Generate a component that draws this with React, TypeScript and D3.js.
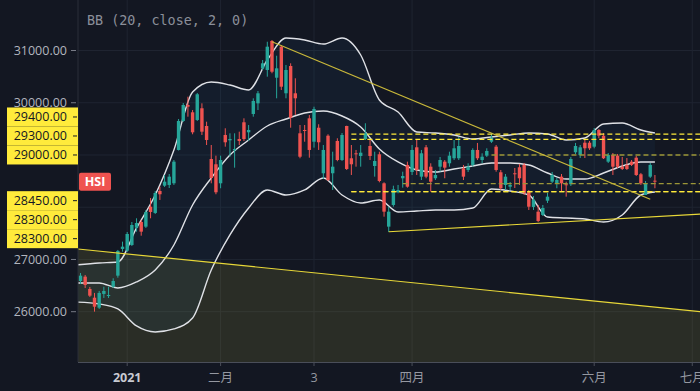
import React from "react";
import * as d3 from "d3";

// HSI daily candles, Dec 2020 - Jun 2021
const opens = [
  26588, 26671, 26435, 26268, 26077, 26340, 26301, 26479, 26690, 27201,
  27168, 27277, 27608, 27717, 27628, 28010, 27890, 28311, 28412, 28426,
  28458, 29096, 29651, 29957, 29817, 29670, 29894, 29555, 28923, 28822,
  28458, 29383, 29281, 29090, 29306, 29626, 29434, 29785, 29989, 30659,
  30627, 31182, 30479, 31073, 30181, 30703, 30181, 29415, 29478, 29702,
  29254, 29522, 28650, 29369, 28650, 29268, 28904, 29555, 28937, 29032,
  28981, 29306, 29172, 28789, 29013, 28458, 27628, 28043, 28286, 28554,
  28809, 28675, 29147, 28585, 29147, 28776, 28554, 28776, 28872, 28841,
  28937, 28937, 28745, 28713, 28809, 29096, 28904, 28987, 29254, 29159,
  28669, 28426, 28393, 28650, 28765, 28809, 28297, 28005, 27915, 27852,
  28125, 28489, 28458, 28585, 28439, 28439, 29052, 28999, 29235, 29235,
  29159, 29478, 29369, 28872, 28999, 28987, 28776, 28809, 28872, 28948,
  28631, 28234, 28585, 28508,
];
const highs = [
  26741, 26703, 26474, 26359, 26397, 26479, 26479, 26640, 27182, 27341,
  27526, 27717, 27788, 27756, 27947, 28177, 28311, 28393, 28617, 28636,
  28904, 29689, 29995, 30116, 29861, 30187, 29989, 29637, 29191, 28987,
  28987, 29511, 29415, 29415, 29446, 29702, 29574, 30085, 30225, 30818,
  31168, 31201, 30900, 31105, 30723, 30755, 30468, 29574, 29574, 29765,
  29924, 29588, 29191, 29396, 29063, 29320, 29421, 29560, 29191, 29096,
  29191, 29607, 29287, 29063, 29063, 28477, 28010, 28412, 28426, 28680,
  28872, 29191, 29287, 29096, 29191, 28841, 28713, 28962, 28904, 29063,
  29287, 29345, 28809, 28841, 29128, 29230, 29032, 29128, 29421, 29191,
  28713, 28636, 28483, 28751, 28828, 28847, 28330, 28215, 28043, 28043,
  28273, 28675, 28560, 28636, 28489, 28962, 29230, 29191, 29287, 29268,
  29517, 29497, 29421, 29038, 29038, 29019, 28962, 28942, 28904, 28981,
  28656, 28502, 28847, 28617,
];
const lows = [
  26531, 26454, 26282, 26001, 26052, 26263, 26263, 26454, 26651, 27149,
  27143, 27258, 27532, 27455, 27603, 27788, 27871, 28139, 28388, 28368,
  28426, 29086, 29632, 29733, 29396, 29651, 29383, 29191, 28458, 28248,
  28363, 29159, 28967, 28757, 29191, 29268, 29268, 29733, 29861, 30627,
  30499, 30564, 30085, 30244, 30085, 29522, 29765, 28937, 29254, 28948,
  29140, 29096, 28540, 28502, 28330, 28880, 28885, 28713, 28617, 28776,
  28776, 29287, 28904, 28585, 28477, 27819, 27526, 28010, 28267, 28374,
  28374, 28617, 28617, 28521, 28554, 28297, 28521, 28680, 28554, 28776,
  28904, 28904, 28521, 28675, 28776, 28904, 28841, 28962, 29230, 28680,
  28330, 28330, 28330, 28368, 28426, 28235, 27947, 27947, 27717, 27832,
  28081, 28464, 28363, 28297, 28202, 28406, 29019, 28942, 28942, 29096,
  29128, 29320, 28923, 28847, 28617, 28751, 28713, 28713, 28789, 28598,
  28426, 28234, 28560, 28363,
];
const closes = [
  26690, 26512, 26307, 26096, 26359, 26397, 26320, 26588, 27163, 27245,
  27488, 27660, 27698, 27532, 27909, 27909, 28273, 28248, 28489, 28585,
  28872, 29651, 29957, 29924, 29434, 30162, 29446, 29287, 28560, 28286,
  28904, 29243, 29306, 29115, 29268, 29306, 29478, 30034, 30181, 30755,
  31073, 30594, 30659, 30307, 30627, 29714, 30085, 28967, 29459, 29096,
  29880, 29243, 29096, 28521, 28776, 28904, 29383, 28732, 28822, 29013,
  29044, 29415, 28981, 28885, 28502, 27915, 27915, 28343, 28330, 28598,
  28393, 29096, 28713, 29032, 28585, 28489, 28617, 28904, 28757, 28987,
  29128, 29172, 28585, 28776, 29096, 28937, 28967, 29077, 29331, 28713,
  28363, 28585, 28426, 28631, 28554, 28267, 28010, 28139, 27737, 27985,
  28202, 28617, 28521, 28458, 28426, 28923, 29172, 29147, 29128, 29128,
  29478, 29369, 28937, 28999, 28776, 28776, 28732, 28732, 28809, 28617,
  28458, 28458, 28809, 28489,
];

// Bollinger bands (20, close, 2) sampled at bar indices
const bandIndex = [
  -1, 4, 8, 12, 16, 20, 24, 28, 32, 36, 40, 44, 48, 52, 56, 60,
  64, 68, 72, 76, 80, 84, 88, 92, 96, 100, 104, 108, 112, 116, 120, 123,
];
const bandUpper = [
  26895, 26933, 26952, 27603, 28234, 29096, 30206, 30397, 30340, 30244, 30818,
  31239, 31201, 31124, 31239, 30914, 30053, 29823, 29440, 29421, 29383, 29306,
  29345, 29383, 29421, 29402, 29287, 29325, 29593, 29612, 29478, 29421,
];
const bandMiddle = [
  26550, 26550, 26454, 26569, 26799, 27277, 28043, 28560, 29000, 29287, 29555,
  29689, 29804, 29842, 29746, 29536, 29115, 28866, 28713, 28675, 28732, 28789,
  28847, 28847, 28809, 28655, 28540, 28540, 28655, 28789, 28866, 28866,
];
const bandLower = [
  26186, 26148, 26052, 25727, 25612, 25670, 25880, 26799, 27469, 27985, 28330,
  28234, 28330, 28560, 28234, 28081, 28139, 27909, 27928, 27947, 27947, 27985,
  28349, 28311, 28234, 27813, 27794, 27775, 27717, 27852, 28234, 28292,
];

// drawings
const trendX1 = [-1, 41, 66];
const trendP1 = [27204, 31168, 27530];
const trendX2 = [134, 122, 134];
const trendP2 = [25989, 28152, 27876];

const levelPrices = [29400, 29300, 29000, 28450, 28300, 28300];
const levelFrom = [58, 58, 88, 69, 58, 58];

const yTicks = [26000, 27000, 28000, 29000, 30000, 31000];
const xTickIndex = [10, 30, 50, 71, 110, 131];
const xTickLabels = ["2021", "二月", "3", "四月", "六月", "七月"];

const W = 700;
const H = 391;
const plotLeft = 78;
const plotBottom = 362;
const BG = "#131722";
const UP = "#26a69a";
const DOWN = "#ef5350";
const YELLOW = "#ffeb3b";
const levelColors = [YELLOW, YELLOW, "#9c9637", "#9c9637", YELLOW, YELLOW];
const axisFont = "'Open Sans', 'Liberation Sans', sans-serif";

const App = () => {
  const x = d3.scaleLinear().domain([0, 1]).range([80.5, 85.17]);
  const y = d3.scaleLinear().domain([31000, 26000]).range([50.5, 311.7]);
  const fmt = d3.format(".2f");

  const bandPts = bandIndex.map((b, i) => ({
    i: b,
    u: bandUpper[i],
    m: bandMiddle[i],
    l: bandLower[i],
  }));
  type BP = (typeof bandPts)[number];
  const curve = d3.curveMonotoneX;
  const upperLine = d3.line<BP>().x((d) => x(d.i)).y((d) => y(d.u)).curve(curve);
  const middleLine = d3.line<BP>().x((d) => x(d.i)).y((d) => y(d.m)).curve(curve);
  const lowerLine = d3.line<BP>().x((d) => x(d.i)).y((d) => y(d.l)).curve(curve);
  const bandArea = d3
    .area<BP>()
    .x((d) => x(d.i))
    .y0((d) => y(d.l))
    .y1((d) => y(d.u))
    .curve(curve);

  // olive fill under the long support line
  const t0 = { x1: x(trendX1[0]), y1: y(trendP1[0]), x2: x(trendX2[0]), y2: y(trendP2[0]) };
  const underFill = `M${t0.x1},${t0.y1}L${t0.x2},${t0.y2}L${t0.x2},${plotBottom}L${t0.x1},${plotBottom}Z`;

  // price tags on the left axis, pushed apart around the symbol tag
  const lastClose = closes[closes.length - 1];
  const hsiY = y(lastClose);
  const tagH = 19;
  const tags = levelPrices.map((p, i) => ({ p, i, y0: y(p), y: y(p) }));
  const above = tags.filter((t) => t.p > lastClose).sort((a, b) => b.y0 - a.y0);
  const below = tags.filter((t) => t.p <= lastClose).sort((a, b) => a.y0 - b.y0);
  let prev = hsiY;
  above.forEach((t) => {
    t.y = Math.min(t.y0, prev - tagH);
    prev = t.y;
  });
  prev = hsiY;
  below.forEach((t) => {
    t.y = Math.max(t.y0, prev + tagH);
    prev = t.y;
  });
  // axis labels hidden behind a tag are not drawn
  const visibleTicks = yTicks.filter((t) => tags.every((g) => Math.abs(g.y - y(t)) > tagH / 2 + 4));

  const bodyW = 3.4;

  return (
    <svg
      width={W}
      height={H}
      style={{ position: "absolute", left: 0, top: 0, display: "block" }}
    >
      <defs>
        <clipPath id="plot">
          <rect x={plotLeft} y={0} width={W - plotLeft} height={plotBottom} />
        </clipPath>
      </defs>
      <rect width={W} height={H} fill={BG} />

      <g clipPath="url(#plot)">
        {/* grid */}
        {yTicks.map((t) => (
          <line key={`gy${t}`} x1={plotLeft} x2={W} y1={y(t)} y2={y(t)} stroke="#1f2431" />
        ))}
        {xTickIndex.map((t) => (
          <line key={`gx${t}`} x1={x(t)} x2={x(t)} y1={0} y2={plotBottom} stroke="#1f2431" />
        ))}

        <path d={underFill} fill="#f0e24a" opacity={0.11} />
        <path d={bandArea(bandPts) ?? ""} fill="#2196f3" opacity={0.05} />
        <path d={upperLine(bandPts) ?? ""} fill="none" stroke="#dfe1e6" strokeWidth={1.4} />
        <path d={middleLine(bandPts) ?? ""} fill="none" stroke="#dfe1e6" strokeWidth={1.4} />
        <path d={lowerLine(bandPts) ?? ""} fill="none" stroke="#dfe1e6" strokeWidth={1.4} />

        {/* candles */}
        {closes.map((c, i) => {
          const o = opens[i];
          const col = c >= o ? UP : DOWN;
          const cx = x(i);
          const top = y(Math.max(o, c));
          const h = Math.max(1, y(Math.min(o, c)) - top);
          return (
            <g key={`c${i}`}>
              <line x1={cx} x2={cx} y1={y(highs[i])} y2={y(lows[i])} stroke={col} strokeWidth={1} />
              <rect x={cx - bodyW / 2} y={top} width={bodyW} height={h} fill={col} />
            </g>
          );
        })}

        {/* horizontal levels */}
        {levelPrices.map((p, i) => (
          <line
            key={`lv${i}`}
            x1={x(levelFrom[i])}
            x2={W}
            y1={y(p)}
            y2={y(p)}
            stroke={levelColors[i]}
            strokeWidth={1.3}
            strokeDasharray="5,3"
          />
        ))}

        {/* trend lines */}
        {trendX1.map((tx, i) => (
          <line
            key={`tl${i}`}
            x1={x(tx)}
            y1={y(trendP1[i])}
            x2={x(trendX2[i])}
            y2={y(trendP2[i])}
            stroke={i === 1 ? "#c9b83a" : "#e8d838"}
            strokeWidth={1.2}
          />
        ))}

        {/* symbol tag */}
        <rect x={79} y={hsiY - 9} width={32} height={18} rx={2} fill={DOWN} />
        <text
          x={95}
          y={hsiY + 4.5}
          textAnchor="middle"
          fill="#ffffff"
          fontSize={12.5}
          fontWeight="bold"
          fontFamily={axisFont}
        >
          HSI
        </text>
      </g>

      {/* axes */}
      <line x1={plotLeft} x2={plotLeft} y1={0} y2={plotBottom} stroke="#2a2e39" />
      <line x1={plotLeft} x2={W} y1={plotBottom + 0.5} y2={plotBottom + 0.5} stroke="#4a4e59" />

      {visibleTicks.map((t) => (
        <g key={`yl${t}`}>
          <line x1={71} x2={76} y1={y(t)} y2={y(t)} stroke="#787b86" />
          <text
            x={67}
            y={y(t) + 4.5}
            textAnchor="end"
            fill="#b2b5be"
            fontSize={12.5}
            fontFamily={axisFont}
          >
            {fmt(t)}
          </text>
        </g>
      ))}

      {xTickIndex.map((t, i) => (
        <g key={`xl${t}`}>
          <line x1={x(t)} x2={x(t)} y1={plotBottom} y2={plotBottom + 4} stroke="#4a4e59" />
          <text
            x={x(t)}
            y={382}
            textAnchor="middle"
            fill={i === 0 ? "#c8cad2" : "#9598a1"}
            fontSize={12.5}
            fontWeight={i === 0 ? "bold" : "normal"}
            fontFamily={`${axisFont}, 'Noto Sans CJK SC'`}
          >
            {xTickLabels[i]}
          </text>
        </g>
      ))}

      {/* level price tags */}
      {tags.map((t) => (
        <g key={`tg${t.i}`}>
          <rect x={7} y={t.y - tagH / 2} width={plotLeft - 7} height={tagH} fill={YELLOW} />
          <line x1={73} x2={77} y1={t.y} y2={t.y} stroke="#131722" />
          <text
            x={67}
            y={t.y + 4.5}
            textAnchor="end"
            fill="#131722"
            fontSize={12.5}
            fontFamily={axisFont}
          >
            {fmt(t.p)}
          </text>
        </g>
      ))}

      <text
        x={87}
        y={25}
        fill="#8b8f9a"
        fontSize={13.4}
        fontFamily="'DejaVu Sans Mono', monospace"
      >
        BB (20, close, 2, 0)
      </text>
    </svg>
  );
};

export default App;
